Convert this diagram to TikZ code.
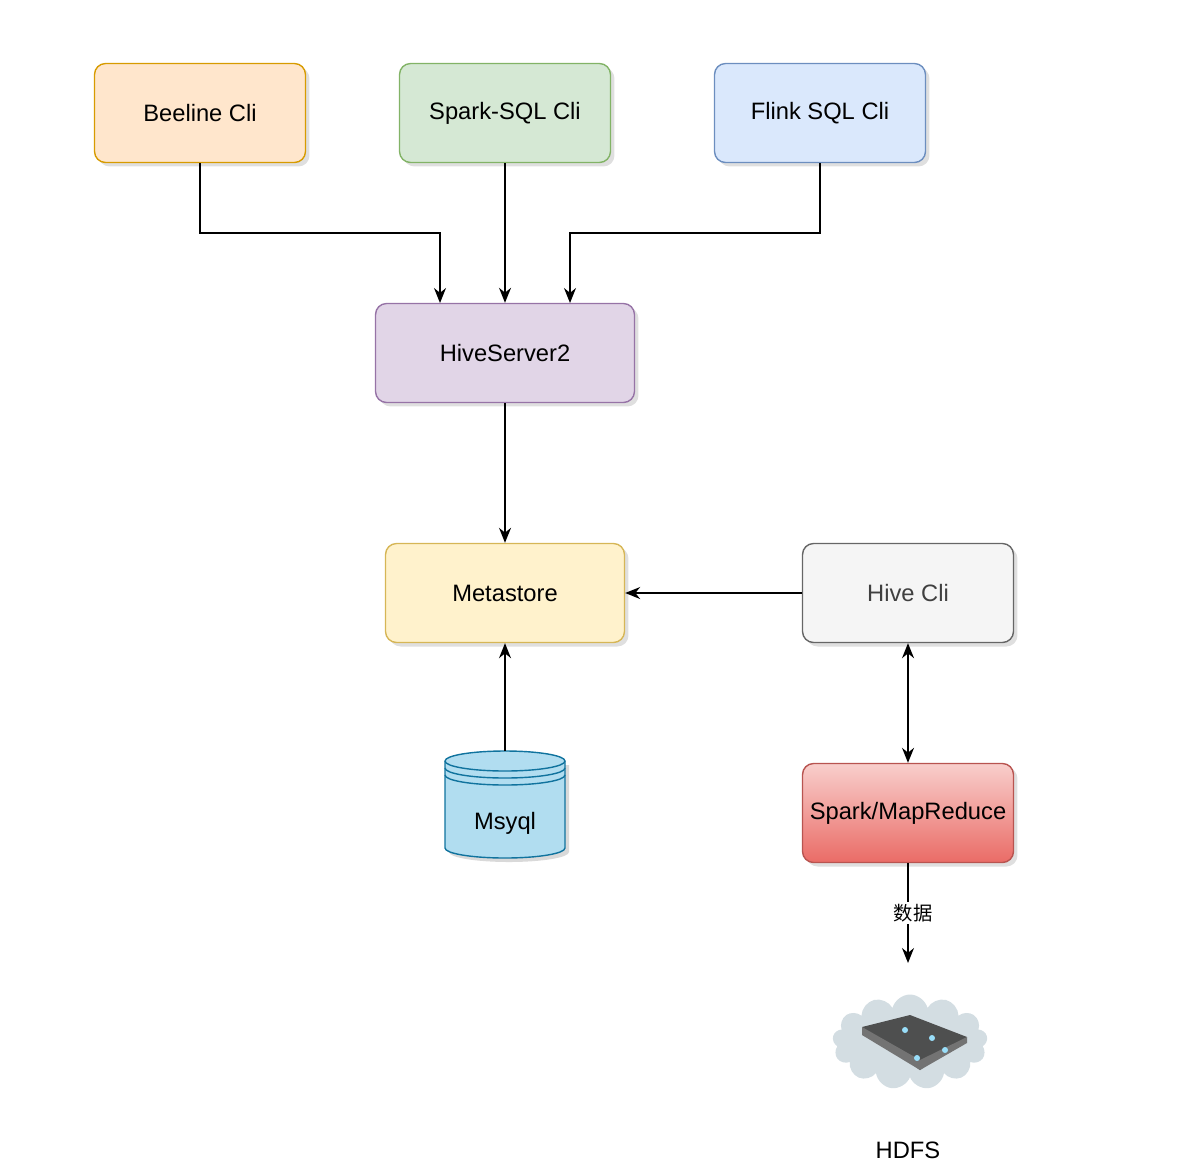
\documentclass[tikz,border=0pt]{standalone}
\usepackage{fontspec}
\setmainfont{Liberation Sans}
\newfontfamily\cjk{Noto Sans CJK SC}
\usetikzlibrary{positioning, shapes.geometric, shapes.symbols, shadows, arrows.meta}

\definecolor{beeFill}{HTML}{FFE6CC}
\definecolor{beeLine}{HTML}{D79B00}
\definecolor{sparkFill}{HTML}{D5E8D4}
\definecolor{sparkLine}{HTML}{82B366}
\definecolor{flinkFill}{HTML}{DAE8FC}
\definecolor{flinkLine}{HTML}{6C8EBF}
\definecolor{hsFill}{HTML}{E1D5E7}
\definecolor{hsLine}{HTML}{9673A6}
\definecolor{metaFill}{HTML}{FFF2CC}
\definecolor{metaLine}{HTML}{D6B656}
\definecolor{cliFill}{HTML}{F5F5F5}
\definecolor{cliLine}{HTML}{666666}
\definecolor{mrTop}{HTML}{F8CECC}
\definecolor{mrBot}{HTML}{EA6B66}
\definecolor{mrLine}{HTML}{B85450}
\definecolor{dbFill}{HTML}{B1DDF0}
\definecolor{dbLine}{HTML}{10739E}
\definecolor{cloudFill}{HTML}{D3DDE2}

\tikzset{
  box/.style={
    rectangle,
    rounded corners=2.2mm,
    draw,
    thick,
    minimum width=4.22cm,
    minimum height=1.98cm,
    font=\fontsize{13.5}{16}\selectfont,
    drop shadow={shadow xshift=0.8mm, shadow yshift=-0.8mm, opacity=0.25}},
  link/.style={-{Stealth[length=3mm,width=2.4mm]}, thick}
}

\begin{document}
\begin{tikzpicture}[x=0.02cm, y=-0.02cm]
  \useasboundingbox (0,0) rectangle (1180,1174);

  \node[box, fill=beeFill, draw=beeLine] (beeline) at (200,113) {Beeline Cli};
  \node[box, fill=sparkFill, draw=sparkLine] (sparksql) at (505,113) {Spark-SQL Cli};
  \node[box, fill=flinkFill, draw=flinkLine] (flink) at (820,113) {Flink SQL Cli};

  \node[box, fill=hsFill, draw=hsLine, minimum width=5.18cm] (hs2) at (505,353) {HiveServer2};

  \node[box, fill=metaFill, draw=metaLine, minimum width=4.78cm] (meta) at (505,593) {Metastore};
  \node[box, fill=cliFill, draw=cliLine, text=black!75] (hivecli) at (908,593) {Hive Cli};
  \node[box, top color=mrTop, bottom color=mrBot, draw=mrLine] (mr) at (908,813) {Spark/MapReduce};

  % Msyql cylinder
  \begin{scope}[dbLine, thick]
    \fill[black, opacity=0.15] (449,765) -- (449,852) arc[start angle=180, end angle=0, x radius=60, y radius=10] -- (569,765) -- cycle;
    \filldraw[fill=dbFill] (445,761) -- (445,848) arc[start angle=180, end angle=0, x radius=60, y radius=10] -- (565,761) arc[start angle=0, end angle=-180, x radius=60, y radius=10];
    \draw (445,761) arc[start angle=180, end angle=0, x radius=60, y radius=10];
    \draw (445,768) arc[start angle=180, end angle=0, x radius=60, y radius=10];
    \draw (445,775) arc[start angle=180, end angle=0, x radius=60, y radius=10];
  \end{scope}
  \coordinate (dbtop) at (505,751);
  \node[font=\fontsize{13.5}{16}\selectfont] (msyql) at (505,823) {Msyql};

  % HDFS icon
  \node[cloud, cloud puffs=13, aspect=1.7, fill=cloudFill, draw=none, minimum width=3.1cm, minimum height=1.9cm] (cloud) at (910,1042) {};
  \fill[black!75, opacity=0.9] (862,1027) -- (910,1015) -- (967,1037) -- (920,1070) -- cycle;
  \fill[black!55] (862,1027) -- (920,1060) -- (967,1037) -- (967,1043) -- (920,1070) -- (862,1035) -- cycle;
  \foreach \px/\py in {905/1030, 932/1038, 917/1058, 945/1050} {
    \fill[cyan!40] (\px,\py) circle[radius=3];
  }
  \node[font=\fontsize{13.5}{16}\selectfont] (hdfs) at (908,1150) {HDFS};

  % connectors
  \draw[link] (beeline.south) |- (440,233) -- (440,303);
  \draw[link] (sparksql) -- (hs2);
  \draw[link] (flink.south) |- (570,233) -- (570,303);
  \draw[link] (hs2) -- (meta);
  \draw[link] (hivecli) -- (meta);
  \draw[link] (dbtop) -- (meta);
  \draw[{Stealth[length=3mm,width=2.4mm]}-{Stealth[length=3mm,width=2.4mm]}, thick] (hivecli) -- (mr);
  \coordinate (hdfstop) at (908,963);
  \draw[link] (mr) -- node[fill=white, inner sep=1pt, font=\cjk\fontsize{11}{13}\selectfont, xshift=3pt] {数据} (hdfstop);
\end{tikzpicture}
\end{document}
